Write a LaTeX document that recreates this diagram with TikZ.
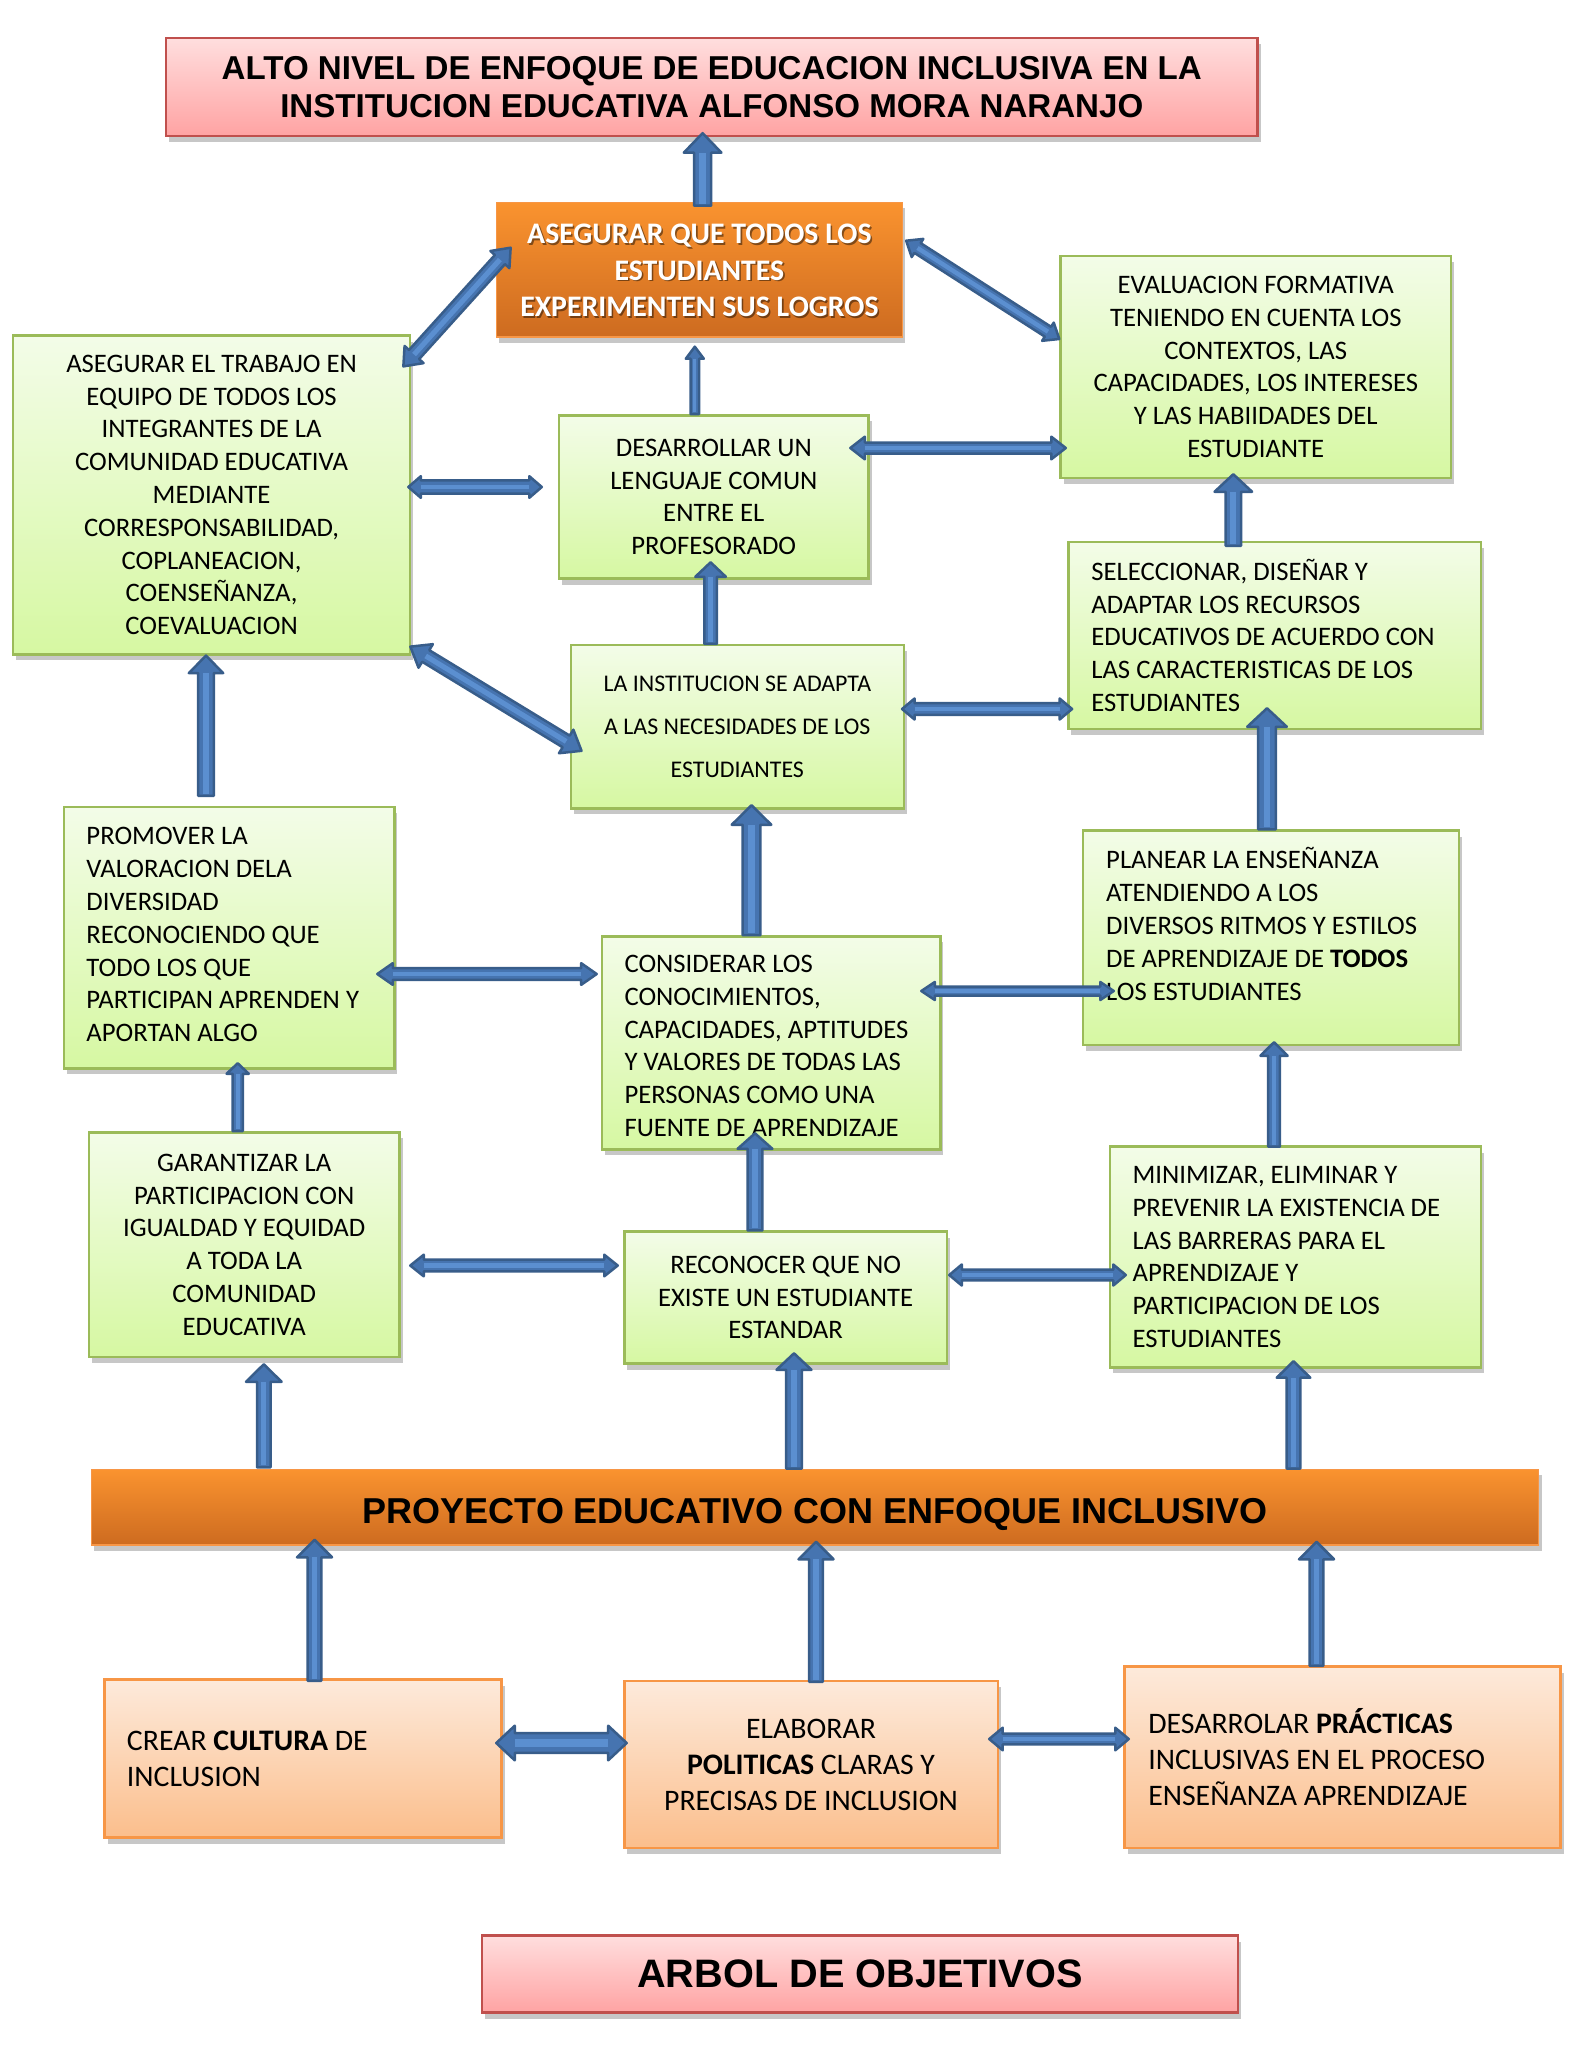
\documentclass[tikz,border=0pt]{standalone}
\usepackage{fontspec}
\setmainfont{Carlito}
\newfontfamily\arialf{Liberation Sans}
\usetikzlibrary{calc,shadows}

\definecolor{gtop}{HTML}{F3FCE8}
\definecolor{gbot}{HTML}{D6F8A2}
\definecolor{gline}{HTML}{9BBB59}
\definecolor{ptop}{HTML}{FFDEDE}
\definecolor{pbot}{HTML}{FFA3A3}
\definecolor{pline}{HTML}{C0504D}
\definecolor{otop}{HTML}{FA932F}
\definecolor{obot}{HTML}{CD6B20}
\definecolor{oline}{HTML}{F79646}
\definecolor{ctop}{HTML}{FDEADB}
\definecolor{cbot}{HTML}{FBBE8C}
\definecolor{aout}{HTML}{385D8A}
\definecolor{afill}{HTML}{4674B0}
\definecolor{ahl}{HTML}{5B8FD0}

\tikzset{
  boxbase/.style={inner sep=0pt, line width=2.5pt,
    drop shadow={shadow xshift=3pt, shadow yshift=-6pt, opacity=0.22, fill=black}},
  gbox/.style={boxbase, draw=gline, top color=gtop, bottom color=gbot},
  pbox/.style={boxbase, draw=pline, top color=ptop, bottom color=pbot},
  obox/.style={boxbase, draw=oline, line width=1.5pt, top color=otop, bottom color=obot},
  cbox/.style={boxbase, draw=oline, top color=ctop, bottom color=cbot},
  gtxt/.style={inner sep=0pt, font=\fontsize{26.7}{32.8}\selectfont, text=black},
  ctxt/.style={inner sep=0pt, font=\fontsize{29.8}{36}\selectfont, text=black},
  wtxt/.style={inner sep=0pt, font=\bfseries\fontsize{29.8}{36.6}\selectfont, align=center},
  blkarr/.style={draw=aout, fill=afill, line width=2.5pt, line join=round},
  blkhl/.style={draw=ahl, line cap=butt}
}

\newcommand\arrowsetup[2]{%
  \path #1; \pgfgetlastxy{\bax}{\bay}%
  \path #2; \pgfgetlastxy{\bbx}{\bby}%
  \pgfmathsetmacro\baang{atan2(\bby-\bay,\bbx-\bax)}%
  \pgfmathsetmacro\balen{veclen(\bbx-\bax,\bby-\bay)}%
}
% single block arrow: from, to (tip), shaft half, head half, head length
\newcommand\sarrow[5]{%
  \arrowsetup{#1}{#2}%
  \pgfmathsetmacro\bab{\balen-#5}%
  \pgfmathsetmacro\bahw{0.75*#3}%
  \begin{scope}[shift={(\bax,\bay)},rotate=\baang]
    \draw[blkarr] (0pt,-#3pt) -- (\bab pt,-#3pt) -- (\bab pt,-#4pt) -- (\balen pt,0pt)
      -- (\bab pt,#4pt) -- (\bab pt,#3pt) -- (0pt,#3pt) -- cycle;
    \draw[blkhl, line width=\bahw pt] (2pt,0pt) -- (\bab pt,0pt);
  \end{scope}}
% double block arrow
\newcommand\darrow[5]{%
  \arrowsetup{#1}{#2}%
  \pgfmathsetmacro\bab{\balen-#5}%
  \pgfmathsetmacro\bahw{0.75*#3}%
  \begin{scope}[shift={(\bax,\bay)},rotate=\baang]
    \draw[blkarr] (0pt,0pt) -- (#5pt,#4pt) -- (#5pt,#3pt) -- (\bab pt,#3pt) -- (\bab pt,#4pt)
      -- (\balen pt,0pt) -- (\bab pt,-#4pt) -- (\bab pt,-#3pt) -- (#5pt,-#3pt) -- (#5pt,-#4pt) -- cycle;
    \draw[blkhl, line width=\bahw pt] (#5pt,0pt) -- (\bab pt,0pt);
  \end{scope}}

\begin{document}
\begin{tikzpicture}[x=1pt,y=-1pt]
\fill[white] (0,0) rectangle (1579,2048);
\path[use as bounding box] (0,0) rectangle (1579,2048);

% title
\node[pbox, minimum width=1091.8pt, minimum height=98pt, align=center,
  font=\arialf\bfseries\fontsize{33.1}{38}\selectfont] (t) at (711.8,86.9)
  {ALTO NIVEL DE ENFOQUE DE EDUCACION INCLUSIVA EN LA\\INSTITUCION EDUCATIVA ALFONSO MORA NARANJO};

% orange box
\node[obox, minimum width=406pt, minimum height=134.5pt] (b2) at (699.4,269.7) {};
\node[wtxt, text=black, opacity=0.45] (b2s) at ($(b2)+(1.6,2.6)$)
  {ASEGURAR QUE TODOS LOS\\ESTUDIANTES\\EXPERIMENTEN SUS LOGROS};
\node[wtxt, text=white] (b2t) at ($(b2)+(0,1)$)
  {ASEGURAR QUE TODOS LOS\\ESTUDIANTES\\EXPERIMENTEN SUS LOGROS};

% green boxes
\node[gbox, gtxt, minimum width=390.5pt, minimum height=222pt, align=center] (b3) at (1255.8,367)
  {EVALUACION FORMATIVA\\TENIENDO EN CUENTA LOS\\CONTEXTOS, LAS\\CAPACIDADES, LOS INTERESES\\Y LAS HABIIDADES DEL\\ESTUDIANTE};
\node[gbox, gtxt, minimum width=397pt, minimum height=318.7pt, align=center] (b4) at (211.6,495)
  {ASEGURAR EL TRABAJO EN\\EQUIPO DE TODOS LOS\\INTEGRANTES DE LA\\COMUNIDAD EDUCATIVA\\MEDIANTE\\CORRESPONSABILIDAD,\\COPLANEACION,\\COENSEÑANZA,\\COEVALUACION};
\node[gbox, gtxt, minimum width=309.5pt, minimum height=163.3pt, align=center] (b5) at (713.8,497)
  {DESARROLLAR UN\\LENGUAJE COMUN\\ENTRE EL\\PROFESORADO};
\node[gbox, minimum width=412.7pt, minimum height=186.8pt] (b6) at (1274.7,635.4) {};
\node[gtxt, anchor=west, align=left] (b6t) at ($(b6.west)+(24,0)$)
  {SELECCIONAR, DISEÑAR Y\\ADAPTAR LOS RECURSOS\\EDUCATIVOS DE ACUERDO CON\\LAS CARACTERISTICAS DE LOS\\ESTUDIANTES};
\node[gbox, gtxt, font=\fontsize{23.9}{43}\selectfont, minimum width=333pt, minimum height=163.2pt, align=center] (b7) at (737.3,726.8)
  {LA INSTITUCION SE ADAPTA\\A LAS NECESIDADES DE LOS\\ESTUDIANTES};
\node[gbox, minimum width=330.4pt, minimum height=261.2pt] (b8) at (229.2,937.7) {};
\node[gtxt, anchor=west, align=left] (b8t) at ($(b8.west)+(23.5,-3)$)
  {PROMOVER LA\\VALORACION DELA\\DIVERSIDAD\\RECONOCIENDO QUE\\TODO LOS QUE\\PARTICIPAN APRENDEN Y\\APORTAN ALGO};
\node[gbox, minimum width=338.3pt, minimum height=212.9pt] (b9) at (771.2,1042.9) {};
\node[gtxt, anchor=west, align=left] (b9t) at ($(b9.west)+(23.5,3)$)
  {CONSIDERAR LOS\\CONOCIMIENTOS,\\CAPACIDADES, APTITUDES\\Y VALORES DE TODAS LAS\\PERSONAS COMO UNA\\FUENTE DE APRENDIZAJE};
\node[gbox, minimum width=376.1pt, minimum height=214.2pt] (b10) at (1270.8,937.7) {};
\node[gtxt, anchor=west, align=left] (b10t) at ($(b10.west)+(24.5,-13.7)$)
  {PLANEAR LA ENSEÑANZA\\ATENDIENDO A LOS\\DIVERSOS RITMOS Y ESTILOS\\DE APRENDIZAJE DE \textbf{TODOS}\\LOS ESTUDIANTES};
\node[gbox, gtxt, minimum width=310.8pt, minimum height=224.6pt, align=center] (b11) at (244.2,1244.7)
  {GARANTIZAR LA\\PARTICIPACION CON\\IGUALDAD Y EQUIDAD\\A TODA LA\\COMUNIDAD\\EDUCATIVA};
\node[gbox, gtxt, minimum width=322.6pt, minimum height=131.9pt, align=center] (b12) at (785.6,1297.6)
  {RECONOCER QUE NO\\EXISTE UN ESTUDIANTE\\ESTANDAR};
\node[gbox, minimum width=370.9pt, minimum height=220.7pt] (b13) at (1295.6,1257) {};
\node[gtxt, anchor=west, align=left] (b13t) at ($(b13.west)+(23.5,0)$)
  {MINIMIZAR, ELIMINAR Y\\PREVENIR LA EXISTENCIA DE\\LAS BARRERAS PARA EL\\APRENDIZAJE Y\\PARTICIPACION DE LOS\\ESTUDIANTES};

% band
\node[obox, minimum width=1447.1pt, minimum height=75.8pt] (band) at (815,1507.2) {};
\node[inner sep=0pt, font=\arialf\bfseries\fontsize{36}{40}\selectfont] (bandt) at ($(band)+(0,7)$)
  {PROYECTO EDUCATIVO CON ENFOQUE INCLUSIVO};

% peach boxes
\node[cbox, minimum width=397pt, minimum height=158pt] (b15) at (303,1758.6) {};
\node[ctxt, anchor=west, align=left] (b15t) at ($(b15.west)+(23.5,0)$)
  {CREAR \textbf{CULTURA} DE\\INCLUSION};
\node[cbox, ctxt, minimum width=373.5pt, minimum height=167.2pt, align=center] (b16) at (811,1764.5)
  {ELABORAR\\\textbf{POLITICAS} CLARAS Y\\PRECISAS DE INCLUSION};
\node[cbox, minimum width=436.2pt, minimum height=181.6pt] (b17) at (1342.6,1757.3) {};
\node[ctxt, anchor=west, align=left] (b17t) at ($(b17.west)+(24.8,0)$)
  {DESARROLAR \textbf{PRÁCTICAS}\\INCLUSIVAS EN EL PROCESO\\ENSEÑANZA APRENDIZAJE};

% footer
\node[pbox, minimum width=756.2pt, minimum height=77pt,
  font=\arialf\bfseries\fontsize{39.7}{45}\selectfont] (arbol) at (860,1974.1)
  {ARBOL DE OBJETIVOS};

% arrows
\sarrow{($(b2.north)+(3.2,4)$)}{($(t.south)+(-9.2,-4)$)}{8.5}{18.8}{19.5}
\darrow{($(b2.west)+(15,-22)$)}{($(b4.north east)+(-8,32)$)}{6.8}{12.8}{16}
\darrow{($(b2.east)+(3,-29)$)}{($(b3.west)+(0,-28)$)}{5.8}{10.8}{13.5}
\sarrow{($(b5.north)+(-19,0)$)}{($(b2.south)+(-4.6,9)$)}{4.3}{9}{12}
\darrow{($(b4.east)+(-3,-8)$)}{($(b5.west)+(-16,-10)$)}{6.6}{10.8}{12.5}
\darrow{($(b5.east)+(-19.5,-49)$)}{($(b3.west)+(6.5,81)$)}{5.5}{11.3}{14.5}
\sarrow{($(b7.north)+(-26.7,0)$)}{($(b5.south)+(-3.2,-17.6)$)}{6.3}{15.3}{14.5}
\darrow{($(b4.south east)+(-1,-9)$)}{($(b7.west)+(12,24)$)}{6.8}{13.8}{18}
\darrow{($(b7.east)+(-3,-17.8)$)}{($(b6.west)+(5,73.6)$)}{5.8}{10.5}{12.5}
\sarrow{($(b6.north)+(-41.4,5)$)}{($(b3.south)+(-22.5,-5)$)}{7.8}{18.8}{17.5}
\sarrow{($(b9.north)+(-19.7,0)$)}{($(b7.south)+(14.2,-4.4)$)}{8.8}{19.8}{19.5}
\sarrow{($(b10.north)+(-3.8,0)$)}{($(b6.south)+(-7.7,-21.8)$)}{8.8}{19.8}{18.5}
\sarrow{($(b8.north)+(-23.2,-10)$)}{($(b4.south)+(-5.6,0)$)}{7.8}{17.2}{17.5}
\darrow{($(b8.east)+(-18.4,36.3)$)}{($(b9.west)+(-4.1,-68.9)$)}{5.8}{10.8}{15.5}
\darrow{($(b9.east)+(-20.3,-51.9)$)}{($(b10.west)+(32.3,53.3)$)}{4.5}{9}{13.5}
\sarrow{($(b11.north)+(-6.5,0)$)}{($(b8.south)+(8.5,-6.3)$)}{5.1}{11.1}{10.5}
\sarrow{($(b12.north)+(-30.6,0)$)}{($(b9.south)+(-16.2,-17.3)$)}{7.4}{17.4}{15.5}
\sarrow{($(b13.north)+(-21.6,1.3)$)}{($(b10.south)+(3.2,-3.8)$)}{5.8}{13.6}{13.5}
\darrow{($(b11.east)+(9.4,20.8)$)}{($(b12.west)+(-5.3,-32.1)$)}{5.8}{10.8}{13.5}
\darrow{($(b12.east)+(1.1,-22.6)$)}{($(b13.west)+(16.9,18)$)}{5.3}{10.5}{12.5}
\sarrow{($(band.north)+(-551.2,-1.3)$)}{($(b11.south)+(19.6,6)$)}{6.8}{17.8}{17.5}
\sarrow{($(band.north)+(-21,0)$)}{($(b12.south)+(8.4,-11.5)$)}{7.8}{17.5}{16.5}
\sarrow{($(band.north)+(478.5,0)$)}{($(b13.south)+(-2.1,-7.4)$)}{6.8}{16.8}{16.5}
\sarrow{($(b15.north)+(11.5,2.4)$)}{($(band.south)+(-500.5,-6.1)$)}{6.8}{17.5}{17.5}
\sarrow{($(b16.north)+(5,2.1)$)}{($(band.south)+(1,-4.1)$)}{6.8}{17.5}{17.5}
\sarrow{($(b17.north)+(-26.1,0.5)$)}{($(band.south)+(501.5,-4.1)$)}{6.8}{17.5}{17.5}
\darrow{($(b15.east)+(-6.5,-15.6)$)}{($(b16.west)+(3.7,-21.5)$)}{9.8}{17.3}{18.5}
\darrow{($(b16.east)+(-9.8,-25.5)$)}{($(b17.west)+(5.5,-18.3)$)}{5.3}{11.3}{13.5}
\end{tikzpicture}
\end{document}
